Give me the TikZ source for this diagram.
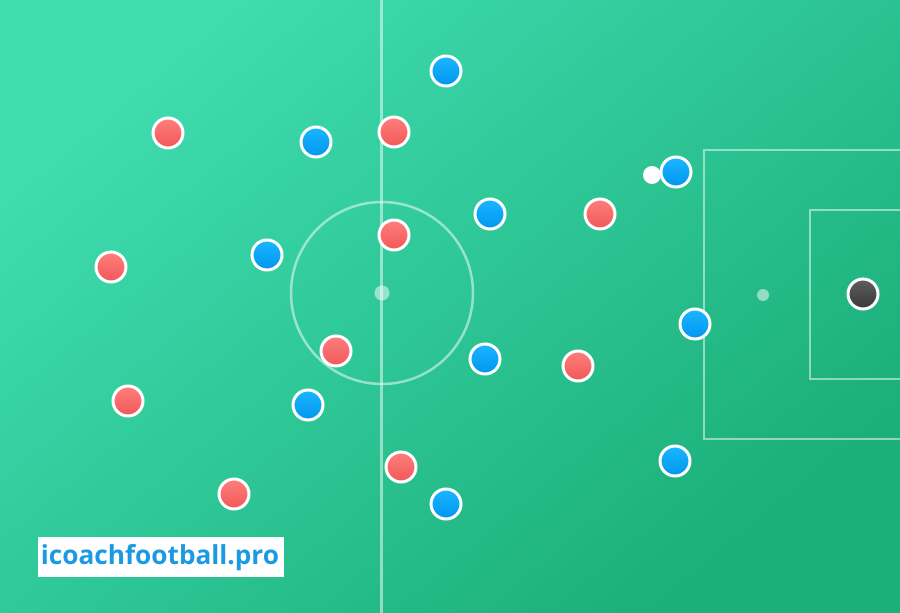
\documentclass[tikz,border=0pt]{standalone}
\usepackage{fontspec}
\setmainfont{Open Sans}
\usetikzlibrary{shadows}
\definecolor{bgA}{HTML}{3FDCB0}
\definecolor{bgB}{HTML}{1BAF79}
\definecolor{redT}{HTML}{FF7E7E}
\definecolor{redB}{HTML}{F05858}
\definecolor{bluT}{HTML}{1BB6FF}
\definecolor{bluB}{HTML}{0096EE}
\definecolor{gkT}{HTML}{5E5E5E}
\definecolor{gkB}{HTML}{383838}
\definecolor{logoblue}{HTML}{1B9AE4}
\tikzset{
  fieldline/.style={draw=white, draw opacity=0.5},
  fieldspot/.style={fill=white, fill opacity=0.5},
  player/.style={circle, inner sep=0pt, minimum size=30pt, draw=white, line width=3pt,
    drop shadow={opacity=0.18, shadow xshift=0pt, shadow yshift=-1.5pt}},
  redp/.style={player, top color=redT, bottom color=redB},
  bluep/.style={player, top color=bluT, bottom color=bluB},
  gkp/.style={player, top color=gkT, bottom color=gkB},
  ballp/.style={circle, inner sep=0pt, minimum size=18pt, fill=white,
    drop shadow={opacity=0.15, shadow xshift=0pt, shadow yshift=-1pt}},
}
\begin{document}
\begin{tikzpicture}[x=1pt, y=-1pt]
\useasboundingbox (0,0) rectangle (900,613);
\shade[top color=bgA, bottom color=bgB, shading angle=40] (0,0) rectangle (900,613);
% field markings
\draw[fieldline, line width=3pt] (381.5,-2) -- (381.5,615);
\draw[fieldline, line width=2.5pt] (382,293) circle[radius=91];
\fill[fieldspot] (382,293) circle[radius=7.5];
\draw[fieldline, line width=2.8pt] (910,150) -- (704,150) -- (704,439) -- (910,439);
\draw[fieldline, line width=2.8pt] (910,210) -- (810,210) -- (810,379) -- (910,379);
\fill[fieldspot] (763,295) circle[radius=6];
% ball
\node[ballp] (ball) at (652,175) {};
% red team
\node[redp] (r1) at (168,133) {};
\node[redp] (r2) at (394,132) {};
\node[redp] (r3) at (394,235) {};
\node[redp] (r4) at (111,267) {};
\node[redp] (r5) at (336,351) {};
\node[redp] (r6) at (128,401) {};
\node[redp] (r7) at (234,494) {};
\node[redp] (r8) at (401,467) {};
\node[redp] (r9) at (600,214) {};
\node[redp] (r10) at (578,366) {};
% blue team
\node[bluep] (b1) at (446,71) {};
\node[bluep] (b2) at (316,142) {};
\node[bluep] (b3) at (676,172) {};
\node[bluep] (b4) at (490,214) {};
\node[bluep] (b5) at (267,255) {};
\node[bluep] (b6) at (695,324) {};
\node[bluep] (b7) at (485,359) {};
\node[bluep] (b8) at (308,405) {};
\node[bluep] (b9) at (675,461) {};
\node[bluep] (b10) at (446,504) {};
% goalkeeper
\node[gkp] (gk) at (863,294) {};
% logo
\node[fill=white, inner sep=0pt, minimum width=246pt, minimum height=40pt] (logobox) at (161,557) {};
\node[inner sep=0pt, text=logoblue, anchor=center] (logo) at (160,557.5)
  {\resizebox{238pt}{!}{\fontsize{25pt}{30pt}\selectfont\bfseries icoachfootball.pro}};
\end{tikzpicture}
\end{document}
